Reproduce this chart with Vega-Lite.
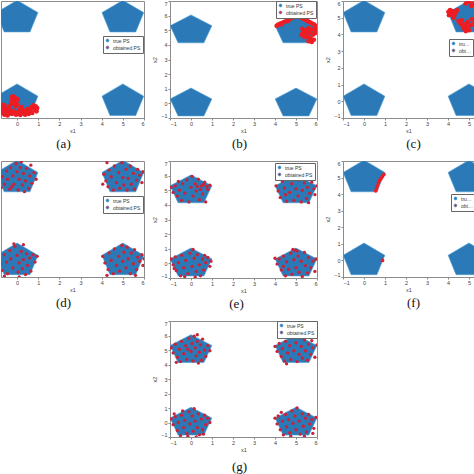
{
  "$schema": "https://vega.github.io/schema/vega-lite/v6.json",
  "background": "white",
  "padding": 0,
  "autosize": {"type": "pad"},
  "datasets": {
    "ps": [{"x": 0, "y": 0}, {"x": 5, "y": 0}, {"x": 0, "y": 5}, {"x": 5, "y": 5}],
    "a": [
      {"x": -0.25, "y": 0.25}, {"x": -0.18, "y": 0.3}, {"x": -0.1, "y": 0.2}, {"x": -0.22, "y": 0.1}, {"x": -0.12, "y": 0.05},
      {"x": -0.2, "y": -0.05}, {"x": -0.05, "y": 0.0}, {"x": -0.15, "y": -0.15}, {"x": 0.0, "y": -0.2}, {"x": -0.28, "y": -0.1},
      {"x": -0.08, "y": -0.3}, {"x": 0.03, "y": 0.12}, {"x": -0.75, "y": -0.2}, {"x": -0.7, "y": -0.35}, {"x": -0.6, "y": -0.25},
      {"x": -0.55, "y": -0.45}, {"x": -0.65, "y": -0.55}, {"x": -0.5, "y": -0.6}, {"x": -0.42, "y": -0.4}, {"x": -0.38, "y": -0.7},
      {"x": -0.72, "y": -0.7}, {"x": -0.6, "y": -0.8}, {"x": -0.45, "y": -0.85}, {"x": -0.3, "y": -0.55}, {"x": -0.25, "y": -0.75},
      {"x": -0.15, "y": -0.6}, {"x": -0.05, "y": -0.8}, {"x": 0.05, "y": -0.65}, {"x": 0.12, "y": -0.5}, {"x": 0.15, "y": -0.82},
      {"x": 0.25, "y": -0.7}, {"x": 0.3, "y": -0.55}, {"x": 0.38, "y": -0.8}, {"x": 0.45, "y": -0.62}, {"x": 0.5, "y": -0.45},
      {"x": 0.55, "y": -0.75}, {"x": 0.62, "y": -0.55}, {"x": 0.68, "y": -0.35}, {"x": 0.72, "y": -0.7}, {"x": 0.78, "y": -0.25},
      {"x": 0.82, "y": -0.5}, {"x": 0.88, "y": -0.3}, {"x": 0.92, "y": -0.6}, {"x": 0.95, "y": -0.4}, {"x": 0.2, "y": -0.35},
      {"x": -0.35, "y": -0.3}
    ],
    "b": [
      {"x": 4.08, "y": 5.3}, {"x": 4.15, "y": 5.38}, {"x": 4.25, "y": 5.45}, {"x": 4.35, "y": 5.5}, {"x": 4.45, "y": 5.58},
      {"x": 4.55, "y": 5.65}, {"x": 4.65, "y": 5.72}, {"x": 4.75, "y": 5.8}, {"x": 4.85, "y": 5.88}, {"x": 4.95, "y": 5.95},
      {"x": 5.05, "y": 6.02}, {"x": 4.3, "y": 5.4}, {"x": 4.6, "y": 5.62}, {"x": 5.15, "y": 5.92}, {"x": 5.25, "y": 5.85},
      {"x": 5.35, "y": 5.78}, {"x": 5.45, "y": 5.7}, {"x": 5.55, "y": 5.62}, {"x": 5.65, "y": 5.55}, {"x": 5.75, "y": 5.48},
      {"x": 5.85, "y": 5.4}, {"x": 5.95, "y": 5.3}, {"x": 5.3, "y": 5.1}, {"x": 5.45, "y": 5.0}, {"x": 5.6, "y": 5.15},
      {"x": 5.75, "y": 5.05}, {"x": 5.9, "y": 5.0}, {"x": 5.35, "y": 4.85}, {"x": 5.5, "y": 4.75}, {"x": 5.65, "y": 4.85},
      {"x": 5.8, "y": 4.7}, {"x": 5.55, "y": 4.55}, {"x": 5.7, "y": 4.45}, {"x": 5.85, "y": 4.35}, {"x": 5.75, "y": 4.2},
      {"x": 5.6, "y": 4.25}, {"x": 5.25, "y": 4.7}, {"x": 5.9, "y": 4.8}, {"x": 5.95, "y": 5.2}, {"x": 5.4, "y": 4.55}
    ],
    "c": [
      {"x": 4.02, "y": 5.35}, {"x": 4.1, "y": 5.45}, {"x": 4.15, "y": 5.25}, {"x": 4.22, "y": 5.4}, {"x": 4.3, "y": 5.1},
      {"x": 4.38, "y": 5.3}, {"x": 4.05, "y": 5.15}, {"x": 4.25, "y": 5.0}, {"x": 4.42, "y": 5.45}, {"x": 4.5, "y": 4.8},
      {"x": 4.6, "y": 4.65}, {"x": 4.7, "y": 4.5}, {"x": 4.8, "y": 4.6}, {"x": 4.9, "y": 4.4}, {"x": 4.95, "y": 4.75},
      {"x": 5.0, "y": 4.25}, {"x": 4.85, "y": 4.2}, {"x": 4.65, "y": 4.85}, {"x": 5.05, "y": 4.55}, {"x": 4.75, "y": 4.35},
      {"x": 4.85, "y": 5.85}, {"x": 5.0, "y": 5.95}, {"x": 5.1, "y": 5.7}, {"x": 5.2, "y": 5.85}, {"x": 5.15, "y": 4.9},
      {"x": 5.2, "y": 4.6}
    ],
    "d": [
      {"x": -0.85, "y": 5.25}, {"x": -0.7, "y": 5.05}, {"x": -0.6, "y": 4.6}, {"x": -0.5, "y": 5.4}, {"x": -0.45, "y": 4.9},
      {"x": -0.35, "y": 4.3}, {"x": -0.3, "y": 5.6}, {"x": -0.2, "y": 5.1}, {"x": -0.15, "y": 4.6}, {"x": -0.05, "y": 5.85},
      {"x": 0.0, "y": 5.35}, {"x": 0.05, "y": 4.25}, {"x": 0.1, "y": 4.9}, {"x": 0.15, "y": 5.6}, {"x": 0.2, "y": 5.95},
      {"x": 0.25, "y": 4.55}, {"x": 0.3, "y": 5.25}, {"x": 0.4, "y": 4.8}, {"x": 0.45, "y": 5.55}, {"x": 0.55, "y": 4.35},
      {"x": 0.6, "y": 5.1}, {"x": 0.7, "y": 4.65}, {"x": 0.8, "y": 5.3}, {"x": 0.9, "y": 4.9}, {"x": -0.75, "y": 4.4},
      {"x": 0.35, "y": 4.15}, {"x": -0.25, "y": 4.45}, {"x": 0.65, "y": 5.75},
      {"x": 4.1, "y": 5.2}, {"x": 4.2, "y": 4.8}, {"x": 4.3, "y": 4.45}, {"x": 4.35, "y": 5.45}, {"x": 4.45, "y": 5.05},
      {"x": 4.55, "y": 4.25}, {"x": 4.6, "y": 5.7}, {"x": 4.7, "y": 4.7}, {"x": 4.8, "y": 5.3}, {"x": 4.85, "y": 4.35},
      {"x": 4.95, "y": 5.9}, {"x": 5.0, "y": 5.0}, {"x": 5.05, "y": 4.55}, {"x": 5.15, "y": 5.5}, {"x": 5.2, "y": 4.25},
      {"x": 5.25, "y": 4.95}, {"x": 5.35, "y": 5.7}, {"x": 5.4, "y": 4.6}, {"x": 5.5, "y": 5.25}, {"x": 5.55, "y": 4.3},
      {"x": 5.65, "y": 4.85}, {"x": 5.7, "y": 5.5}, {"x": 5.8, "y": 5.15}, {"x": 5.9, "y": 4.7}, {"x": 5.95, "y": 5.35},
      {"x": 4.25, "y": 5.9}, {"x": 5.45, "y": 6.05}, {"x": 4.05, "y": 4.6},
      {"x": -0.9, "y": 0.2}, {"x": -0.8, "y": -0.2}, {"x": -0.7, "y": -0.6}, {"x": -0.6, "y": 0.35}, {"x": -0.5, "y": -0.1},
      {"x": -0.45, "y": -0.8}, {"x": -0.35, "y": 0.6}, {"x": -0.3, "y": 0.1}, {"x": -0.2, "y": -0.45}, {"x": -0.1, "y": 0.85},
      {"x": 0.0, "y": 0.3}, {"x": 0.05, "y": -0.7}, {"x": 0.1, "y": -0.15}, {"x": 0.2, "y": 0.55}, {"x": 0.25, "y": -0.5},
      {"x": 0.3, "y": 0.05}, {"x": 0.4, "y": -0.85}, {"x": 0.45, "y": 0.4}, {"x": 0.5, "y": -0.3}, {"x": 0.6, "y": 0.15},
      {"x": 0.65, "y": -0.65}, {"x": 0.75, "y": 0.35}, {"x": 0.85, "y": -0.1}, {"x": 0.95, "y": 0.25}, {"x": -0.15, "y": 1.0},
      {"x": 0.3, "y": 0.95}, {"x": -0.6, "y": -0.95}, {"x": 0.1, "y": -1.0},
      {"x": 4.05, "y": 0.25}, {"x": 4.15, "y": -0.15}, {"x": 4.3, "y": -0.55}, {"x": 4.35, "y": 0.45}, {"x": 4.45, "y": 0.0},
      {"x": 4.55, "y": -0.8}, {"x": 4.6, "y": 0.7}, {"x": 4.7, "y": -0.3}, {"x": 4.8, "y": 0.25}, {"x": 4.85, "y": -0.65},
      {"x": 4.95, "y": 0.9}, {"x": 5.0, "y": -0.05}, {"x": 5.05, "y": 0.5}, {"x": 5.15, "y": -0.45}, {"x": 5.2, "y": 0.8},
      {"x": 5.25, "y": 0.1}, {"x": 5.35, "y": -0.8}, {"x": 5.4, "y": 0.45}, {"x": 5.5, "y": -0.2}, {"x": 5.55, "y": 0.65},
      {"x": 5.65, "y": -0.55}, {"x": 5.7, "y": 0.2}, {"x": 5.8, "y": -0.05}, {"x": 5.9, "y": 0.35}, {"x": 6.0, "y": 0.1},
      {"x": 4.25, "y": -0.9}, {"x": 5.6, "y": -0.9}, {"x": 5.95, "y": -0.3}
    ],
    "e": [
      {"x": -0.95, "y": 5.2}, {"x": -0.85, "y": 4.85}, {"x": -0.75, "y": 5.3}, {"x": -0.65, "y": 4.6}, {"x": -0.55, "y": 5.0},
      {"x": -0.45, "y": 4.3}, {"x": -0.4, "y": 5.45}, {"x": -0.3, "y": 4.8}, {"x": -0.2, "y": 5.7}, {"x": -0.1, "y": 4.2},
      {"x": 0.0, "y": 5.2}, {"x": 0.05, "y": 5.95}, {"x": 0.1, "y": 4.6}, {"x": 0.2, "y": 5.45}, {"x": 0.25, "y": 4.95},
      {"x": 0.35, "y": 5.75}, {"x": 0.4, "y": 4.35}, {"x": 0.5, "y": 5.3}, {"x": 0.55, "y": 4.75}, {"x": 0.65, "y": 5.55},
      {"x": 0.7, "y": 4.2}, {"x": 0.8, "y": 5.05}, {"x": 0.9, "y": 5.35}, {"x": 0.45, "y": 5.05}, {"x": -0.6, "y": 5.6},
      {"x": 0.3, "y": 5.25}, {"x": 0.6, "y": 5.4}, {"x": 0.75, "y": 5.25},
      {"x": 4.05, "y": 5.3}, {"x": 4.15, "y": 4.95}, {"x": 4.25, "y": 4.5}, {"x": 4.35, "y": 5.6}, {"x": 4.45, "y": 5.15},
      {"x": 4.55, "y": 4.25}, {"x": 4.6, "y": 5.8}, {"x": 4.7, "y": 4.85}, {"x": 4.8, "y": 5.45}, {"x": 4.9, "y": 4.3},
      {"x": 4.95, "y": 6.05}, {"x": 5.0, "y": 5.1}, {"x": 5.1, "y": 4.6}, {"x": 5.15, "y": 5.7}, {"x": 5.25, "y": 4.2},
      {"x": 5.3, "y": 5.0}, {"x": 5.4, "y": 5.5}, {"x": 5.5, "y": 4.45}, {"x": 5.55, "y": 5.2}, {"x": 5.65, "y": 4.8},
      {"x": 5.75, "y": 5.55}, {"x": 5.85, "y": 5.1}, {"x": 5.9, "y": 4.7}, {"x": 6.0, "y": 5.3}, {"x": 4.4, "y": 5.9},
      {"x": 5.2, "y": 5.95}, {"x": 5.6, "y": 4.15}, {"x": 4.5, "y": 4.7},
      {"x": -0.95, "y": 0.3}, {"x": -0.85, "y": -0.1}, {"x": -0.75, "y": 0.45}, {"x": -0.7, "y": -0.5}, {"x": -0.6, "y": 0.05},
      {"x": -0.5, "y": -0.85}, {"x": -0.45, "y": 0.55}, {"x": -0.35, "y": -0.3}, {"x": -0.25, "y": 0.2}, {"x": -0.15, "y": -0.7},
      {"x": -0.05, "y": 0.7}, {"x": 0.05, "y": -0.2}, {"x": 0.1, "y": 0.95}, {"x": 0.15, "y": 0.35}, {"x": 0.25, "y": -0.55},
      {"x": 0.3, "y": 0.6}, {"x": 0.4, "y": -0.1}, {"x": 0.45, "y": -0.85}, {"x": 0.55, "y": 0.3}, {"x": 0.6, "y": -0.45},
      {"x": 0.7, "y": 0.05}, {"x": 0.8, "y": 0.4}, {"x": 0.9, "y": -0.2}, {"x": 0.95, "y": 0.15}, {"x": -0.3, "y": -0.9},
      {"x": 0.2, "y": -0.95}, {"x": -0.8, "y": -0.35}, {"x": 0.65, "y": 0.55},
      {"x": 4.0, "y": 0.35}, {"x": 4.1, "y": -0.05}, {"x": 4.2, "y": 0.3}, {"x": 4.3, "y": -0.45}, {"x": 4.4, "y": 0.5},
      {"x": 4.5, "y": -0.85}, {"x": 4.55, "y": 0.1}, {"x": 4.65, "y": -0.4}, {"x": 4.75, "y": 0.7}, {"x": 4.8, "y": -0.75},
      {"x": 4.9, "y": 0.25}, {"x": 4.95, "y": 0.9}, {"x": 5.0, "y": -0.3}, {"x": 5.1, "y": 0.5}, {"x": 5.15, "y": -0.6},
      {"x": 5.25, "y": 0.15}, {"x": 5.3, "y": -0.9}, {"x": 5.4, "y": 0.75}, {"x": 5.45, "y": -0.15}, {"x": 5.55, "y": -0.65},
      {"x": 5.6, "y": 0.4}, {"x": 5.7, "y": -0.3}, {"x": 5.8, "y": 0.15}, {"x": 5.9, "y": -0.55}, {"x": 5.95, "y": 0.3},
      {"x": 4.85, "y": 0.95}, {"x": 5.05, "y": 0.85}, {"x": 4.4, "y": -0.2}
    ],
    "f": [
      {"x": 0.56, "y": 4.2}, {"x": 0.6, "y": 4.33}, {"x": 0.64, "y": 4.5}, {"x": 0.69, "y": 4.68},
      {"x": 0.74, "y": 4.82}, {"x": 0.81, "y": 4.95}, {"x": 0.88, "y": 5.07}, {"x": 0.95, "y": 5.2},
      {"x": 0.88, "y": 0.0}
    ],
    "g": [
      {"x": -0.95, "y": 5.15}, {"x": -0.85, "y": 4.8}, {"x": -0.75, "y": 5.4}, {"x": -0.65, "y": 4.5}, {"x": -0.55, "y": 5.05},
      {"x": -0.5, "y": 4.2}, {"x": -0.45, "y": 5.6}, {"x": -0.35, "y": 4.75}, {"x": -0.25, "y": 5.3}, {"x": -0.2, "y": 4.35},
      {"x": -0.1, "y": 5.8}, {"x": 0.0, "y": 4.9}, {"x": 0.05, "y": 5.45}, {"x": 0.1, "y": 4.25}, {"x": 0.15, "y": 5.95},
      {"x": 0.2, "y": 5.15}, {"x": 0.25, "y": 4.6}, {"x": 0.3, "y": 5.6}, {"x": 0.4, "y": 4.85}, {"x": 0.45, "y": 5.35},
      {"x": 0.5, "y": 4.3}, {"x": 0.55, "y": 5.75}, {"x": 0.65, "y": 5.0}, {"x": 0.7, "y": 4.55}, {"x": 0.8, "y": 5.3},
      {"x": 0.9, "y": 4.95}, {"x": -0.15, "y": 5.05}, {"x": 0.35, "y": 4.1}, {"x": 0.3, "y": 6.05}, {"x": -0.7, "y": 4.15},
      {"x": 4.0, "y": 5.25}, {"x": 4.1, "y": 4.9}, {"x": 4.2, "y": 5.45}, {"x": 4.3, "y": 4.55}, {"x": 4.35, "y": 5.1},
      {"x": 4.45, "y": 4.25}, {"x": 4.5, "y": 5.6}, {"x": 4.6, "y": 4.8}, {"x": 4.7, "y": 5.3}, {"x": 4.75, "y": 4.35},
      {"x": 4.85, "y": 5.85}, {"x": 4.9, "y": 4.95}, {"x": 5.0, "y": 5.5}, {"x": 5.05, "y": 4.2}, {"x": 5.1, "y": 6.05},
      {"x": 5.15, "y": 4.7}, {"x": 5.25, "y": 5.25}, {"x": 5.3, "y": 4.45}, {"x": 5.4, "y": 5.7}, {"x": 5.45, "y": 4.95},
      {"x": 5.55, "y": 4.3}, {"x": 5.6, "y": 5.4}, {"x": 5.7, "y": 4.7}, {"x": 5.8, "y": 5.15}, {"x": 5.9, "y": 4.5},
      {"x": 6.0, "y": 5.35}, {"x": 4.4, "y": 5.9}, {"x": 5.35, "y": 5.95}, {"x": 4.55, "y": 4.05}, {"x": 5.75, "y": 5.65},
      {"x": -0.95, "y": 0.25}, {"x": -0.85, "y": -0.15}, {"x": -0.75, "y": 0.4}, {"x": -0.65, "y": -0.55}, {"x": -0.6, "y": 0.0},
      {"x": -0.5, "y": -0.9}, {"x": -0.45, "y": 0.5}, {"x": -0.35, "y": -0.35}, {"x": -0.3, "y": 0.15}, {"x": -0.2, "y": -0.75},
      {"x": -0.1, "y": 0.75}, {"x": -0.05, "y": -0.1}, {"x": 0.05, "y": 0.45}, {"x": 0.1, "y": -0.6}, {"x": 0.15, "y": 0.95},
      {"x": 0.2, "y": 0.1}, {"x": 0.3, "y": -0.35}, {"x": 0.35, "y": 0.6}, {"x": 0.4, "y": -0.85}, {"x": 0.5, "y": 0.25},
      {"x": 0.55, "y": -0.5}, {"x": 0.65, "y": 0.5}, {"x": 0.7, "y": -0.15}, {"x": 0.8, "y": 0.3}, {"x": 0.9, "y": 0.0},
      {"x": -0.4, "y": 0.8}, {"x": 0.25, "y": -1.0}, {"x": -0.15, "y": -0.95}, {"x": 0.6, "y": -0.8}, {"x": -0.8, "y": 0.6},
      {"x": 4.0, "y": 0.3}, {"x": 4.1, "y": -0.1}, {"x": 4.15, "y": 0.45}, {"x": 4.25, "y": -0.5}, {"x": 4.35, "y": 0.1},
      {"x": 4.4, "y": -0.85}, {"x": 4.5, "y": 0.55}, {"x": 4.55, "y": -0.3}, {"x": 4.65, "y": 0.2}, {"x": 4.7, "y": -0.7},
      {"x": 4.8, "y": 0.8}, {"x": 4.85, "y": -0.05}, {"x": 4.95, "y": 0.45}, {"x": 5.0, "y": -0.5}, {"x": 5.05, "y": 1.0},
      {"x": 5.15, "y": 0.1}, {"x": 5.2, "y": -0.8}, {"x": 5.3, "y": 0.6}, {"x": 5.35, "y": -0.25}, {"x": 5.45, "y": 0.3},
      {"x": 5.5, "y": -0.65}, {"x": 5.6, "y": 0.55}, {"x": 5.65, "y": -0.1}, {"x": 5.75, "y": 0.2}, {"x": 5.85, "y": -0.4},
      {"x": 5.95, "y": 0.35}, {"x": 4.3, "y": 0.7}, {"x": 5.4, "y": -0.95}, {"x": 4.75, "y": -0.95}, {"x": 5.8, "y": -0.75}
    ]
  },
  "columns": 3,
  "concat": [
    {
      "width": 143, "height": 117,
      "title": {"text": "(a)", "dx": -9},
      "encoding": {
        "x": {"field": "x", "type": "quantitative", "scale": {"domain": [-0.76, 6], "nice": false, "zero": false}, "axis": {"title": "x1", "values": [0, 1, 2, 3, 4, 5, 6]}},
        "y": {"field": "y", "type": "quantitative", "scale": {"domain": [-1, 6], "nice": false, "zero": false}, "axis": null}
      },
      "layer": [
        {
          "data": {"name": "ps"},
          "mark": {"type": "point", "filled": true, "opacity": 1, "clip": true, "size": 1600, "shape": "M0,-0.87L1.043,-0.256L0.645,0.711L-0.645,0.711L-1.043,-0.256Z", "stroke": "#4a9fd4", "strokeWidth": 0.6},
          "encoding": {"color": {"datum": "true PS", "type": "nominal", "scale": {"domain": ["true PS", "obtained PS"], "range": ["#2c79b7", "#ee1d23"]},
            "legend": {"title": null, "legendX": 102, "legendY": 35, "encode": {"symbols": {"shape": {"value": "circle"}, "fill": {"condition": {"test": "datum.value === 'true PS'", "value": "transparent"}, "value": "#ee1d23"}, "stroke": {"condition": {"test": "datum.value === 'true PS'", "value": "#4dbeee"}, "value": "#ee1d23"}}}}}}
        },
        {
          "data": {"name": "a"},
          "mark": {"type": "point", "filled": true, "opacity": 1, "clip": true, "size": 22},
          "encoding": {"color": {"datum": "obtained PS", "type": "nominal"}}
        }
      ]
    },
    {
      "width": 147, "height": 117,
      "title": {"text": "(b)", "dx": -4},
      "encoding": {
        "x": {"field": "x", "type": "quantitative", "scale": {"domain": [-1, 6], "nice": false, "zero": false}, "axis": {"title": "x1", "values": [-1, 0, 1, 2, 3, 4, 5, 6]}},
        "y": {"field": "y", "type": "quantitative", "scale": {"domain": [-1, 7], "nice": false, "zero": false}, "axis": {"title": "x2", "values": [-1, 0, 1, 2, 3, 4, 5, 6, 7]}}
      },
      "layer": [
        {
          "data": {"name": "ps"},
          "mark": {"type": "point", "filled": true, "opacity": 1, "clip": true, "size": 1600, "shape": "M0,-0.765L1.043,-0.224L0.645,0.627L-0.645,0.627L-1.043,-0.224Z", "stroke": "#4a9fd4", "strokeWidth": 0.6},
          "encoding": {"color": {"datum": "true PS", "type": "nominal", "scale": {"domain": ["true PS", "obtained PS"], "range": ["#2c79b7", "#ee1d23"]},
            "legend": {"title": null, "legendX": 106, "legendY": 0, "encode": {"symbols": {"shape": {"value": "circle"}, "fill": {"condition": {"test": "datum.value === 'true PS'", "value": "transparent"}, "value": "#ee1d23"}, "stroke": {"condition": {"test": "datum.value === 'true PS'", "value": "#4dbeee"}, "value": "#ee1d23"}}}}}}
        },
        {
          "data": {"name": "b"},
          "mark": {"type": "point", "filled": true, "opacity": 1, "clip": true, "size": 22},
          "encoding": {"color": {"datum": "obtained PS", "type": "nominal"}}
        }
      ]
    },
    {
      "width": 131, "height": 117,
      "title": {"text": "(c)", "dx": 5},
      "encoding": {
        "x": {"field": "x", "type": "quantitative", "scale": {"domain": [-1, 5.24], "nice": false, "zero": false}, "axis": {"title": "x1", "values": [-1, 0, 1, 2, 3, 4, 5]}},
        "y": {"field": "y", "type": "quantitative", "scale": {"domain": [-1, 6], "nice": false, "zero": false}, "axis": {"title": "x2", "values": [-1, 0, 1, 2, 3, 4, 5, 6]}}
      },
      "layer": [
        {
          "data": {"name": "ps"},
          "mark": {"type": "point", "filled": true, "opacity": 1, "clip": true, "size": 1600, "shape": "M0,-0.87L1.043,-0.256L0.645,0.711L-0.645,0.711L-1.043,-0.256Z", "stroke": "#4a9fd4", "strokeWidth": 0.6},
          "encoding": {"color": {"datum": "true PS", "type": "nominal", "scale": {"domain": ["true PS", "obtained PS"], "range": ["#2c79b7", "#ee1d23"]},
            "legend": {"title": null, "legendX": 106, "legendY": 38, "labelLimit": 13, "encode": {"labels": {"ellipsis": {"value": ""}}, "symbols": {"shape": {"value": "circle"}, "fill": {"condition": {"test": "datum.value === 'true PS'", "value": "transparent"}, "value": "#ee1d23"}, "stroke": {"condition": {"test": "datum.value === 'true PS'", "value": "#4dbeee"}, "value": "#ee1d23"}}}}}}
        },
        {
          "data": {"name": "c"},
          "mark": {"type": "point", "filled": true, "opacity": 1, "clip": true, "size": 22},
          "encoding": {"color": {"datum": "obtained PS", "type": "nominal"}}
        }
      ]
    },
    {
      "width": 143, "height": 116,
      "title": {"text": "(d)", "dx": -9},
      "encoding": {
        "x": {"field": "x", "type": "quantitative", "scale": {"domain": [-0.76, 6], "nice": false, "zero": false}, "axis": {"title": "x1", "values": [0, 1, 2, 3, 4, 5, 6]}},
        "y": {"field": "y", "type": "quantitative", "scale": {"domain": [-1, 6], "nice": false, "zero": false}, "axis": null}
      },
      "layer": [
        {
          "data": {"name": "ps"},
          "mark": {"type": "point", "filled": true, "opacity": 1, "clip": true, "size": 1600, "shape": "M0,-0.87L1.043,-0.256L0.645,0.711L-0.645,0.711L-1.043,-0.256Z", "stroke": "#4a9fd4", "strokeWidth": 0.6},
          "encoding": {"color": {"datum": "true PS", "type": "nominal", "scale": {"domain": ["true PS", "obtained PS"], "range": ["#2c79b7", "#c8233a"]},
            "legend": {"title": null, "legendX": 102, "legendY": 35, "encode": {"symbols": {"shape": {"value": "circle"}, "fill": {"condition": {"test": "datum.value === 'true PS'", "value": "transparent"}, "value": "#c8233a"}, "stroke": {"condition": {"test": "datum.value === 'true PS'", "value": "#4dbeee"}, "value": "#c8233a"}}}}}}
        },
        {
          "data": {"name": "d"},
          "mark": {"type": "point", "filled": true, "opacity": 1, "clip": true, "size": 11},
          "encoding": {"color": {"datum": "obtained PS", "type": "nominal"}}
        }
      ]
    },
    {
      "width": 147, "height": 117,
      "title": {"text": "(e)", "dx": -7},
      "encoding": {
        "x": {"field": "x", "type": "quantitative", "scale": {"domain": [-1, 6], "nice": false, "zero": false}, "axis": {"title": "x1", "values": [-1, 0, 1, 2, 3, 4, 5, 6]}},
        "y": {"field": "y", "type": "quantitative", "scale": {"domain": [-1, 7], "nice": false, "zero": false}, "axis": {"title": "x2", "values": [-1, 0, 1, 2, 3, 4, 5, 6, 7]}}
      },
      "layer": [
        {
          "data": {"name": "ps"},
          "mark": {"type": "point", "filled": true, "opacity": 1, "clip": true, "size": 1600, "shape": "M0,-0.765L1.043,-0.224L0.645,0.627L-0.645,0.627L-1.043,-0.224Z", "stroke": "#4a9fd4", "strokeWidth": 0.6},
          "encoding": {"color": {"datum": "true PS", "type": "nominal", "scale": {"domain": ["true PS", "obtained PS"], "range": ["#2c79b7", "#c8233a"]},
            "legend": {"title": null, "legendX": 105, "legendY": 2, "encode": {"symbols": {"shape": {"value": "circle"}, "fill": {"condition": {"test": "datum.value === 'true PS'", "value": "transparent"}, "value": "#c8233a"}, "stroke": {"condition": {"test": "datum.value === 'true PS'", "value": "#4dbeee"}, "value": "#c8233a"}}}}}}
        },
        {
          "data": {"name": "e"},
          "mark": {"type": "point", "filled": true, "opacity": 1, "clip": true, "size": 11},
          "encoding": {"color": {"datum": "obtained PS", "type": "nominal"}}
        }
      ]
    },
    {
      "width": 131, "height": 116,
      "title": {"text": "(f)", "dx": 5},
      "encoding": {
        "x": {"field": "x", "type": "quantitative", "scale": {"domain": [-1, 5.24], "nice": false, "zero": false}, "axis": {"title": "x1", "values": [-1, 0, 1, 2, 3, 4, 5]}},
        "y": {"field": "y", "type": "quantitative", "scale": {"domain": [-1, 6], "nice": false, "zero": false}, "axis": {"title": "x2", "values": [-1, 0, 1, 2, 3, 4, 5, 6]}}
      },
      "layer": [
        {
          "data": {"name": "ps"},
          "mark": {"type": "point", "filled": true, "opacity": 1, "clip": true, "size": 1600, "shape": "M0,-0.87L1.043,-0.256L0.645,0.711L-0.645,0.711L-1.043,-0.256Z", "stroke": "#4a9fd4", "strokeWidth": 0.6},
          "encoding": {"color": {"datum": "true PS", "type": "nominal", "scale": {"domain": ["true PS", "obtained PS"], "range": ["#2c79b7", "#ee1d23"]},
            "legend": {"title": null, "legendX": 108, "legendY": 33, "labelLimit": 13, "encode": {"labels": {"ellipsis": {"value": ""}}, "symbols": {"shape": {"value": "circle"}, "fill": {"condition": {"test": "datum.value === 'true PS'", "value": "transparent"}, "value": "#ee1d23"}, "stroke": {"condition": {"test": "datum.value === 'true PS'", "value": "#4dbeee"}, "value": "#ee1d23"}}}}}}
        },
        {
          "data": {"name": "f"},
          "mark": {"type": "point", "filled": true, "opacity": 1, "clip": true, "size": 14},
          "encoding": {"color": {"datum": "obtained PS", "type": "nominal"}}
        }
      ]
    },
    {
      "width": 143, "height": 116,
      "view": {"stroke": null},
      "data": {"values": [{}]},
      "mark": {"type": "point", "opacity": 0},
      "encoding": {}
    },
    {
      "width": 147, "height": 116,
      "title": {"text": "(g)", "dx": -4, "offset": 8},
      "encoding": {
        "x": {"field": "x", "type": "quantitative", "scale": {"domain": [-1, 6], "nice": false, "zero": false}, "axis": {"title": "x1", "values": [-1, 0, 1, 2, 3, 4, 5, 6]}},
        "y": {"field": "y", "type": "quantitative", "scale": {"domain": [-1, 7], "nice": false, "zero": false}, "axis": {"title": "x2", "values": [-1, 0, 1, 2, 3, 4, 5, 6, 7]}}
      },
      "layer": [
        {
          "data": {"name": "ps"},
          "mark": {"type": "point", "filled": true, "opacity": 1, "clip": true, "size": 1600, "shape": "M0,-0.765L1.043,-0.224L0.645,0.627L-0.645,0.627L-1.043,-0.224Z", "stroke": "#4a9fd4", "strokeWidth": 0.6},
          "encoding": {"color": {"datum": "true PS", "type": "nominal", "scale": {"domain": ["true PS", "obtained PS"], "range": ["#2c79b7", "#c8233a"]},
            "legend": {"title": null, "legendX": 107, "legendY": 0, "encode": {"symbols": {"shape": {"value": "circle"}, "fill": {"condition": {"test": "datum.value === 'true PS'", "value": "transparent"}, "value": "#c8233a"}, "stroke": {"condition": {"test": "datum.value === 'true PS'", "value": "#4dbeee"}, "value": "#c8233a"}}}}}}
        },
        {
          "data": {"name": "g"},
          "mark": {"type": "point", "filled": true, "opacity": 1, "clip": true, "size": 11},
          "encoding": {"color": {"datum": "obtained PS", "type": "nominal"}}
        }
      ]
    }
  ],
  "spacing": {"row": 43, "column": 26},
  "bounds": "flush",
  "resolve": {"scale": {"color": "independent"}, "legend": {"color": "independent"}},
  "config": {
    "view": {"stroke": "#8c8c8c", "strokeWidth": 1},
    "axis": {"grid": false, "domain": false, "labelFontSize": 5.5, "titleFontSize": 5.5, "titleFontWeight": "normal", "labelFont": "Liberation Sans", "titleFont": "Liberation Sans", "labelColor": "#444", "titleColor": "#444", "tickSize": 2, "tickColor": "#888", "labelPadding": 1, "titlePadding": 2},
    "axisY": {"labelFlush": true, "titlePadding": 3},
    "legend": {"orient": "none", "labelFontSize": 5, "labelFont": "Liberation Sans", "labelColor": "#333", "symbolSize": 8, "symbolStrokeWidth": 0.8, "padding": 2, "rowPadding": 0, "labelOffset": 3, "strokeColor": "#666", "fillColor": "#ffffff"},
    "title": {"orient": "bottom", "font": "Liberation Serif", "fontSize": 13, "fontWeight": "normal", "color": "#111", "offset": 4, "anchor": "middle"}
  }
}
